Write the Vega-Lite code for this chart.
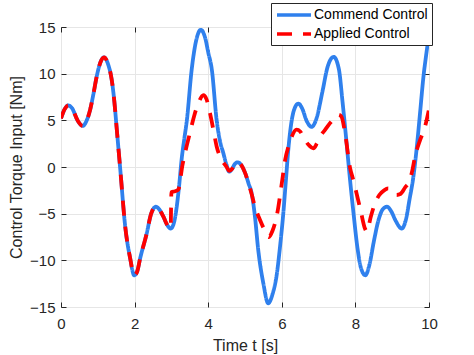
{
  "$schema": "https://vega.github.io/schema/vega-lite/v6.json",
  "width": 368,
  "height": 280,
  "autosize": {"type": "none"},
  "padding": {"left": 61, "top": 27, "right": 45, "bottom": 48},
  "background": "white",
  "config": {
    "view": {"stroke": "#262626", "strokeWidth": 1},
    "font": "Arial",
    "axis": {
      "domain": false,
      "labelFlush": false,
      "gridColor": "#e6e6e6",
      "gridWidth": 1,
      "tickColor": "#262626",
      "tickSize": -5,
      "labelFont": "Arial",
      "titleFont": "Arial",
      "labelFontSize": 15,
      "labelColor": "#262626",
      "titleFontSize": 16,
      "titleFontWeight": "normal",
      "titleColor": "#262626"
    },
    "legend": {"labelFont": "Arial"}
  },
  "datasets": {
    "cmd": [
      {"t":0,"v":5.2},{"t":0.1,"v":6.2},{"t":0.2,"v":6.6},{"t":0.3,"v":6.3},{"t":0.45,"v":5.0},{"t":0.59,"v":4.4},{"t":0.7,"v":5.0},{"t":0.79,"v":6.1},{"t":0.88,"v":7.8},{"t":0.97,"v":9.7},{"t":1.07,"v":11.2},{"t":1.17,"v":11.75},{"t":1.28,"v":11.0},{"t":1.38,"v":9.3},{"t":1.45,"v":7.0},{"t":1.51,"v":4.3},{"t":1.62,"v":-0.7},{"t":1.74,"v":-6.2},{"t":1.88,"v":-9.8},{"t":1.99,"v":-11.6},{"t":2.07,"v":-11.2},{"t":2.15,"v":-9.8},{"t":2.33,"v":-7.1},{"t":2.45,"v":-5.0},{"t":2.58,"v":-4.25},{"t":2.68,"v":-4.6},{"t":2.78,"v":-5.3},{"t":2.9,"v":-6.3},{"t":2.98,"v":-6.6},{"t":3.06,"v":-6.1},{"t":3.14,"v":-4.4},{"t":3.21,"v":-2.0},{"t":3.28,"v":0.9},{"t":3.35,"v":3.0},{"t":3.42,"v":5.0},{"t":3.55,"v":10.4},{"t":3.67,"v":13.5},{"t":3.8,"v":14.7},{"t":3.92,"v":13.8},{"t":4.0,"v":12.3},{"t":4.1,"v":10.4},{"t":4.23,"v":5.0},{"t":4.32,"v":2.8},{"t":4.41,"v":1.5},{"t":4.5,"v":0.2},{"t":4.57,"v":-0.5},{"t":4.65,"v":-0.2},{"t":4.72,"v":0.3},{"t":4.8,"v":0.5},{"t":4.9,"v":0.2},{"t":5.0,"v":-0.6},{"t":5.1,"v":-1.8},{"t":5.18,"v":-2.8},{"t":5.27,"v":-5.3},{"t":5.36,"v":-8.9},{"t":5.5,"v":-12.5},{"t":5.63,"v":-14.6},{"t":5.75,"v":-13.6},{"t":5.86,"v":-11.6},{"t":5.95,"v":-8.6},{"t":6.04,"v":-5.0},{"t":6.11,"v":-1.5},{"t":6.18,"v":2.0},{"t":6.27,"v":5.0},{"t":6.36,"v":6.4},{"t":6.45,"v":6.8},{"t":6.55,"v":6.3},{"t":6.68,"v":4.9},{"t":6.81,"v":4.3},{"t":6.95,"v":5.3},{"t":7.1,"v":8.0},{"t":7.25,"v":10.8},{"t":7.41,"v":11.8},{"t":7.55,"v":10.5},{"t":7.65,"v":7.0},{"t":7.75,"v":3.0},{"t":7.85,"v":-1.2},{"t":7.95,"v":-5.0},{"t":8.05,"v":-8.5},{"t":8.15,"v":-10.8},{"t":8.27,"v":-11.6},{"t":8.38,"v":-10.5},{"t":8.5,"v":-8.0},{"t":8.62,"v":-5.8},{"t":8.75,"v":-4.5},{"t":8.86,"v":-4.25},{"t":8.98,"v":-4.8},{"t":9.1,"v":-5.8},{"t":9.26,"v":-6.6},{"t":9.38,"v":-5.5},{"t":9.47,"v":-3.5},{"t":9.57,"v":-1.2},{"t":9.66,"v":1.8},{"t":9.75,"v":5.5},{"t":9.85,"v":9.7},{"t":9.94,"v":12.5},{"t":10,"v":14.2}
    ],
    "app": [
      {"t":0,"v":5.2},{"t":0.1,"v":6.2},{"t":0.2,"v":6.6},{"t":0.3,"v":6.3},{"t":0.45,"v":5.0},{"t":0.59,"v":4.4},{"t":0.7,"v":5.0},{"t":0.79,"v":6.1},{"t":0.88,"v":7.8},{"t":0.97,"v":9.7},{"t":1.07,"v":11.2},{"t":1.17,"v":11.75},{"t":1.28,"v":11.0},{"t":1.38,"v":9.3},{"t":1.45,"v":7.0},{"t":1.51,"v":4.3},{"t":1.62,"v":-0.7},{"t":1.74,"v":-6.2},{"t":1.88,"v":-9.8},{"t":1.99,"v":-11.6},{"t":2.07,"v":-11.2},{"t":2.15,"v":-9.8},{"t":2.33,"v":-7.1},{"t":2.45,"v":-5.0},{"t":2.58,"v":-4.25},{"t":2.68,"v":-4.6},{"t":2.78,"v":-5.3},{"t":2.9,"v":-6.3},{"t":2.98,"v":-6.6},{"t":3.0,"v":-2.7},{"t":3.1,"v":-2.6},{"t":3.19,"v":-2.4},{"t":3.3,"v":0.2},{"t":3.4,"v":2.0},{"t":3.5,"v":3.6},{"t":3.62,"v":5.5},{"t":3.73,"v":6.8},{"t":3.87,"v":7.7},{"t":3.95,"v":7.3},{"t":4.05,"v":5.75},{"t":4.15,"v":3.8},{"t":4.23,"v":2.2},{"t":4.35,"v":0.9},{"t":4.5,"v":0.0},{"t":4.57,"v":-0.4},{"t":4.65,"v":-0.2},{"t":4.72,"v":0.3},{"t":4.8,"v":0.5},{"t":4.9,"v":0.2},{"t":5.0,"v":-0.6},{"t":5.1,"v":-1.8},{"t":5.18,"v":-2.9},{"t":5.27,"v":-4.25},{"t":5.4,"v":-5.6},{"t":5.5,"v":-6.5},{"t":5.65,"v":-7.5},{"t":5.75,"v":-6.8},{"t":5.86,"v":-5.3},{"t":6.0,"v":-1.75},{"t":6.09,"v":0.75},{"t":6.18,"v":2.2},{"t":6.27,"v":3.25},{"t":6.4,"v":4.0},{"t":6.5,"v":3.8},{"t":6.58,"v":3.25},{"t":6.72,"v":2.4},{"t":6.86,"v":2.0},{"t":6.95,"v":2.5},{"t":7.04,"v":3.25},{"t":7.18,"v":4.0},{"t":7.31,"v":4.7},{"t":7.45,"v":5.3},{"t":7.54,"v":5.6},{"t":7.62,"v":5.4},{"t":7.72,"v":3.6},{"t":7.85,"v":0.0},{"t":7.95,"v":-1.5},{"t":8.03,"v":-2.8},{"t":8.15,"v":-4.8},{"t":8.26,"v":-6.6},{"t":8.31,"v":-6.9},{"t":8.42,"v":-5.3},{"t":8.53,"v":-3.9},{"t":8.65,"v":-3.0},{"t":8.78,"v":-2.5},{"t":8.89,"v":-2.3},{"t":9.0,"v":-2.5},{"t":9.12,"v":-3.0},{"t":9.22,"v":-2.9},{"t":9.35,"v":-2.2},{"t":9.48,"v":-1.4},{"t":9.55,"v":-0.3},{"t":9.62,"v":1.1},{"t":9.75,"v":2.8},{"t":9.89,"v":4.3},{"t":10,"v":6.2}
    ]
  },
  "layer": [
    {
      "data": {"name": "cmd"},
      "transform": [{"calculate": "'Commend Control'", "as": "series"}],
      "mark": {"type": "line", "strokeWidth": 3.8, "interpolate": "monotone", "clip": true},
      "encoding": {
        "x": {"field": "t", "type": "quantitative", "scale": {"domain": [0, 10], "nice": false},
              "axis": {"values": [0, 2, 4, 6, 8, 10], "title": "Time t [s]", "labelPadding": 14, "titlePadding": 6}},
        "y": {"field": "v", "type": "quantitative", "scale": {"domain": [-15, 15], "nice": false},
              "axis": {"values": [-15, -10, -5, 0, 5, 10, 15], "title": "Control Torque Input [Nm]", "labelPadding": 11, "titlePadding": 5}},
        "color": {"field": "series", "type": "nominal",
                  "scale": {"domain": ["Commend Control", "Applied Control"], "range": ["#2f80ed", "#ff0000"]},
                  "legend": {"orient": "none", "legendX": 210, "legendY": -24, "title": null, "columns": 1, "columnPadding": 0,
                             "fillColor": "white", "strokeColor": "#262626", "padding": 4,
                             "labelFontSize": 14, "labelColor": "#000000", "symbolType": "M-1,0H4.67",
                             "symbolSize": 144, "symbolStrokeWidth": 3.5, "labelOffset": 23, "rowPadding": 4}},
        "strokeDash": {"field": "series", "type": "nominal",
                       "scale": {"domain": ["Commend Control", "Applied Control"], "range": [[1, 0], [15, 11]]},
                       "legend": {"orient": "none", "legendX": 210, "legendY": -24, "title": null, "columns": 1, "columnPadding": 0,
                                  "fillColor": "white", "strokeColor": "#262626", "padding": 4,
                                  "labelFontSize": 14, "labelColor": "#000000", "symbolType": "M-1,0H4.67",
                                  "symbolSize": 144, "symbolStrokeWidth": 3.5, "labelOffset": 23, "rowPadding": 4}}
      }
    },
    {
      "data": {"name": "app"},
      "transform": [{"calculate": "'Applied Control'", "as": "series"}],
      "mark": {"type": "line", "strokeWidth": 3.8, "interpolate": "monotone", "clip": true},
      "encoding": {
        "x": {"field": "t", "type": "quantitative", "axis": null},
        "y": {"field": "v", "type": "quantitative", "axis": null},
        "color": {"field": "series", "type": "nominal"},
        "strokeDash": {"field": "series", "type": "nominal"}
      }
    },
    {
      "data": {"name": "cmd"},
      "mark": {"type": "point", "opacity": 0},
      "encoding": {
        "x": {"field": "t", "type": "quantitative",
              "axis": {"orient": "top", "values": [0, 2, 4, 6, 8, 10], "labels": false, "grid": false, "title": null}},
        "y": {"field": "v", "type": "quantitative",
              "axis": {"orient": "right", "values": [-15, -10, -5, 0, 5, 10, 15], "labels": false, "grid": false, "title": null}}
      }
    }
  ],
  "resolve": {"axis": {"x": "independent", "y": "independent"}}
}
